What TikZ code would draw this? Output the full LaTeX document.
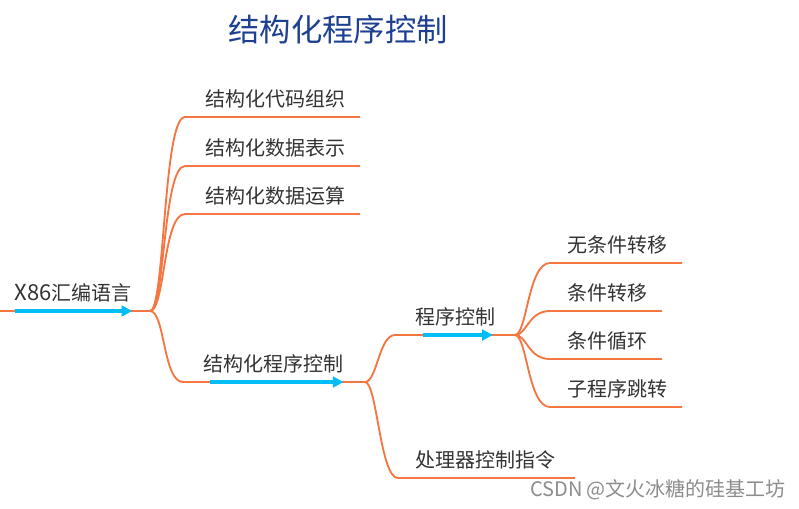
\documentclass[tikz,border=0pt]{standalone}
\usepackage{fontspec}
\usepackage{tikz}
\usetikzlibrary{arrows.meta}
\newfontfamily\cjk{Noto Sans CJK SC}
\definecolor{astorange}{RGB}{246,118,66}
\definecolor{pfeilblau}{RGB}{0,190,245}
\definecolor{titelblau}{RGB}{30,64,145}
\definecolor{textgrau}{RGB}{51,51,51}
\definecolor{wzgrau}{RGB}{140,140,140}

\begin{document}
\begin{tikzpicture}[x=0.75pt, y=-0.75pt, >={Triangle[length=8pt,width=8pt]},
    font=\cjk\fontsize{15pt}{18pt}\selectfont,
    ast/.style={astorange, line width=1.4pt},
    thema/.style={anchor=base west, inner sep=0pt, text=textgrau, xshift=#1, yshift=8pt},
    thema/.default=15pt,
    pfeil/.style={->, pfeilblau, line width=3pt}]
	%Bildbereich
	\useasboundingbox (0,0) rectangle (799,508);
	% Titel
	\node[text=titelblau, font=\cjk\fontsize{23.5pt}{28pt}\selectfont] (titel) at (338,30) {结构化程序控制};
	% Wurzel
	\coordinate (r0) at (0,311);
	\coordinate (j0) at (150,311);
	\draw[ast] (r0) -- (j0);
	\node[thema=11pt] (rt) at (r0) {{\fontsize{16.5pt}{18pt}\selectfont X86}汇编语言};
	% Aeste erster Ebene
	\foreach \y/\txt [count=\i] in {117/结构化代码组织, 166/结构化数据表示, 214/结构化数据运算} {
		\coordinate (a\i) at (185,\y);
		\coordinate (a\i e) at (360,\y);
		\draw[ast] (j0) .. controls +(15,0) and +(-22,0) .. (a\i) -- (a\i e);
		\node[thema] (a\i t) at (a\i) {\txt};
	}
	\coordinate (b4) at (183,382);
	\coordinate (j1) at (365,382);
	\draw[ast] (j0) .. controls +(15,0) and +(-20,0) .. (b4) -- (j1);
	\node[thema] (b4t) at (b4) {结构化程序控制};
	% Aeste zweiter Ebene
	\coordinate (b5) at (395,335);
	\coordinate (j2) at (515,335);
	\draw[ast] (j1) .. controls +(12,0) and +(-16,0) .. (b5) -- (j2);
	\node[thema] (b5t) at (b5) {程序控制};
	\coordinate (b6) at (398,478);
	\coordinate (b6e) at (575,478);
	\draw[ast] (j1) .. controls +(12,0) and +(-18,0) .. (b6) -- (b6e);
	\node[thema=13pt] (b6t) at (b6) {处理器控制指令};
	% Aeste dritter Ebene
	\foreach \y/\xe/\txt [count=\i] in {263/682/无条件转移, 311/662/条件转移, 359/662/条件循环, 407/682/子程序跳转} {
		\coordinate (c\i) at (550,\y);
		\coordinate (c\i e) at (\xe,\y);
		\draw[ast] (j2) .. controls +(12,0) and +(-22,0) .. (c\i) -- (c\i e);
		\node[thema=13pt] (c\i t) at (c\i) {\txt};
	}
	% Pfeile
	\draw[pfeil] (rt.base west |- j0) -- (rt.base east |- j0);
	\draw[pfeil, shorten <=5pt] (b4t.base west |- j1) -- (b4t.base east |- j1);
	\draw[pfeil, shorten <=6pt, shorten >=2pt] (b5t.base west |- j2) -- (b5t.base east |- j2);
	% Wasserzeichen
	\node[text=wzgrau, font=\cjk\fontsize{15pt}{18pt}\selectfont] (wz) at (658,490) {CSDN @文火冰糖的硅基工坊};
\end{tikzpicture}
\end{document}
